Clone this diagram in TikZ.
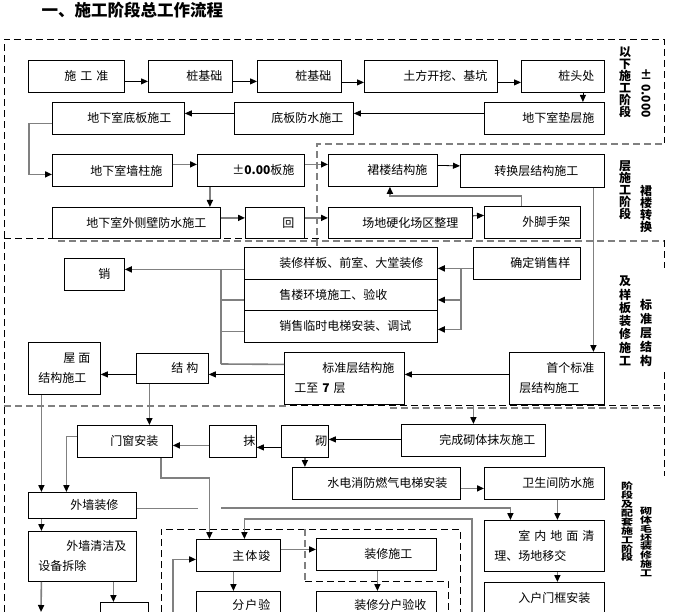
\documentclass[tikz,border=0pt]{standalone}
\usepackage{fontspec}
\usepackage{tikz}
\usetikzlibrary{arrows.meta,positioning,calc}
\newfontfamily\cjk{Noto Sans CJK SC}
\definecolor{lnGrey}{RGB}{128,128,128}

\begin{document}
\begin{tikzpicture}[
  x=1pt,y=-1pt,
  every node/.style={font=\cjk\fontsize{12}{20}\selectfont},
  box/.style={draw,line width=0.8pt,anchor=north west,inner xsep=10pt,
              inner ysep=0pt,align=right},
  wh/.style 2 args={minimum width=#1pt,minimum height=#2pt,
              /utils/exec={\pgfmathsetlengthmacro\boxtw{#1pt-20pt}},
              text width=\boxtw},
  ln/.style={line width=0.8pt,-{Triangle[length=7pt,width=6pt]}},
  gl/.style={draw=lnGrey,line width=1.6pt},
  gla/.style={gl,-{Triangle[length=7pt,width=6pt,color=black]}},
  band/.style={dash pattern=on 7pt off 4pt,line width=0.8pt},
  gband/.style={band,draw=lnGrey,line width=1.6pt},
  vlab/.style={inner sep=0pt,align=center,
              font=\cjk\bfseries\fontsize{12}{#1}\selectfont},
  vlab/.default=12
]
\clip (0,0) rectangle (679,612);

\node[anchor=west,font=\cjk\bfseries\fontsize{16.5}{16.5}\selectfont] (ttl) at (38,10) {一、施工阶段总工作流程};

\draw[band] (4,612) -- (4,39) -- (664,39) -- (664,143);
\draw[band] (664,240) -- (664,268);
\draw[band] (664,372) -- (664,476);
\draw[gband] (317,246) -- (317,144) -- (664,144);
\draw[band] (4,238) -- (320,238);
\draw[gband] (58,241) -- (664,241);
\draw[band] (4,405) -- (664,405);
\draw[gband] (4,406) -- (286,406);
\draw[gband] (390,408) -- (664,408);
\draw[band] (161,612) -- (161,529) -- (460,529) -- (460,612);
\draw[gband] (305,529) -- (305,581);
\draw[band] (305,581) -- (448,581) -- (448,612);

\node[box,wh={96}{32}] (sgz) at (28,60) {施\hspace{4pt}工\hspace{4pt}准\kern6pt};
\node[box,wh={84}{32}] (zjc1) at (148,60) {桩基础};
\node[box,wh={84}{32}] (zjc2) at (257,60) {桩基础};
\node[box,wh={133}{32}] (tfkw) at (364,60) {土方开挖、基坑};
\node[box,wh={83}{32}] (ztc) at (521,60) {桩头处};
\node[box,wh={120}{32}] (dcs) at (484,102) {地下室垫层施};
\node[box,wh={119}{32}] (dbfs) at (234,102) {底板防水施工};
\node[box,wh={132}{32}] (dbsg) at (52,102) {地下室底板施工\kern3pt};
\node[box,wh={120}{32}] (dqz) at (52,154) {地下室墙柱施};
\node[box,wh={107}{32}] (pm) at (197,154) {±\textbf{0.00}板施};
\node[box,wh={168}{31}] (wcb) at (52,207) {地下室外侧壁防水施工\kern4pt};
\node[box,wh={59}{31}] (hui) at (245,207) {回};
\node[box,wh={109}{32}] (qljg) at (328,154) {裙楼结构施};
\node[box,wh={144}{33}] (zhc) at (460,154) {转换层结构施工\kern16pt};
\node[box,wh={144}{31}] (cdyh) at (328,207) {场地硬化场区整理\kern4pt};
\node[box,wh={96}{32}] (wjsj) at (484,206) {外脚手架};

\node[box,wh={60}{32}] (xiao) at (64,258) {销\kern4pt};
\node[box,wh={193}{32}] (zxyb) at (244,247) {装修样板、前室、大堂装修\kern4pt};
\node[box,wh={193}{31},align=left] (slhj) at (244,279) {\hspace*{25pt}售楼环境施工、验收};
\node[box,wh={193}{32},align=left] (xsls) at (244,310) {\hspace*{25pt}销售临时电梯安装、调试};
\node[box,wh={107}{32}] (qdxs) at (473,247) {确定销售样};
\node[box,wh={72}{52},align=left] (wm) at (28,342) {\hfill 屋\hspace{3pt}面\\结构施工};
\node[box,wh={72}{30}] (jg) at (136,353) {结\hspace{3pt}构};
\node[box,wh={120}{52},align=left] (bzc) at (284,352) {\hfill 标准层结构施\\工至 \textbf{7} 层};
\node[box,wh={95}{52},align=left] (sgbz) at (509,352) {\hfill 首个标准\\层结构施工};

\node[box,wh={95}{32}] (mc) at (77,425) {门窗安装\kern4pt};
\node[box,wh={47}{32},inner xsep=1pt,text width=45pt] (mo) at (209,425) {抹};
\node[box,wh={47}{32},inner xsep=1pt,text width=45pt] (qi) at (281,425) {砌};
\node[box,wh={144}{32}] (wcqt) at (401,424) {完成砌体抹灰施工};
\node[box,wh={168}{32}] (sd) at (292,467) {水电消防燃气电梯安装\kern3pt};
\node[box,wh={120}{32}] (wsj) at (484,467) {卫生间防水施};
\node[box,wh={108}{26}] (wqzx) at (28,492) {外墙装修\kern8pt};
\node[box,wh={108}{50},align=left] (wqqj) at (28,531) {\hfill 外墙清洁及\\设备拆除};
\node[box,wh={48}{20}] (xx) at (100,602) {};
\node[box,wh={84}{32}] (ztj) at (196,539) {主\hspace{1pt}体\hspace{1pt}竣};
\node[box,wh={84}{28}] (fhy) at (196,591) {分\hspace{1pt}户\hspace{1pt}验};
\node[box,wh={120}{32}] (zxsg) at (316,538) {装修施工\kern14pt};
\node[box,wh={120}{28}] (zxfh) at (316,591) {装修分户验收};
\node[box,wh={120}{51},align=left] (snd) at (484,520) {\hfill 室\hspace{4pt}内\hspace{4pt}地\hspace{4pt}面\hspace{4pt}清\\理、场地移交};
\node[box,wh={120}{32}] (rhmk) at (484,582) {入户门框安装\kern4pt};

\node[vlab] (lb1a) at (625,82) {以\\下\\施\\工\\阶\\段};
\node[vlab] (lb1b) at (646,75) {±};
\node[vlab,rotate=-90] (lb1c) at (646,101) {0.000};
\node[vlab] (lb2a) at (625,190) {层\\施\\工\\阶\\段};
\node[vlab] (lb2b) at (646,209) {裙\\楼\\转\\换};
\node[vlab=13.3] (lb3a) at (625,321) {及\\样\\板\\装\\修\\施\\工};
\node[vlab=14] (lb3b) at (646,333) {标\\准\\层\\结\\构};
\node[vlab,yscale=0.74,transform shape] (lb4a) at (627,522) {阶\\段\\及\\配\\套\\施\\工\\阶\\段};
\node[vlab,yscale=0.74,transform shape] (lb4b) at (646,542) {砌\\体\\毛\\坯\\装\\修\\施\\工};

\draw[ln] ([yshift=-5pt]sgz.east) -- ([yshift=-5pt]zjc1.west);
\draw[ln] ([yshift=-5pt]zjc1.east) -- ([yshift=-5pt]zjc2.west);
\draw[ln] ([yshift=-6pt]zjc2.east) -- ([yshift=-6pt]tfkw.west);
\draw[ln] ([yshift=-6pt]tfkw.east) -- ([yshift=-6pt]ztc.west);
\draw[ln] ([xshift=20pt]ztc.south) -- ([xshift=20pt]ztc.south |- dcs.north);
\draw[ln] ([yshift=5pt]dcs.west) -- ([yshift=5pt]dbfs.east);
\draw[ln] ([yshift=5pt]dbfs.west) -- ([yshift=5pt]dbsg.east);
\draw[gla] ([yshift=-5pt]dbsg.west) -- ++(-23,0) |- ([yshift=-4pt]dqz.west);
\draw[gla] ([yshift=6pt]dqz.east) -- ([yshift=6pt]pm.west);
\draw[gla] ([yshift=6pt]pm.east) -- ([yshift=6pt]qljg.west);
\draw[gla] ([xshift=-41pt]pm.south) -- ([xshift=-41pt]pm.south |- wcb.north);
\draw[gla] ([yshift=5pt]wcb.east) -- ([yshift=5pt]hui.west);
\draw[gla] ([yshift=5pt]hui.east) -- ([yshift=5pt]cdyh.west);
\draw[ln] ([yshift=7pt]cdyh.east) -- ([yshift=7pt]wjsj.west);
\draw[gla] ([xshift=-11pt]wjsj.north) -- ++(0,-10) -| ([xshift=7pt]qljg.south);
\draw[ln] ([yshift=5pt]qljg.east) -- ([yshift=5pt]zhc.west);

\draw[gla] ([xshift=61pt]zhc.south) -- ([xshift=61pt]zhc.south |- sgbz.north);
\draw[ln] ([yshift=4pt]sgbz.west) -- ([yshift=4pt]bzc.east);
\draw[ln] ([yshift=4pt]bzc.west) -- ([yshift=-6pt]jg.east);
\draw[ln] ([yshift=-6pt]jg.west) -- ([yshift=-6pt]wm.east);
\coordinate (xbus) at (221,364);
\draw[gl] ([yshift=14pt]bzc.west) -- (xbus);
\draw[gla] (xbus) |- ([yshift=5pt]xiao.east);
\draw[gl] (xbus) |- ([yshift=-6pt]zxyb.west);
\draw[gl] (xbus) |- ([yshift=-5pt]slhj.west);
\draw[gl] (xbus) |- ([yshift=-5pt]xsls.west);
\coordinate (sbus) at (461,268);
\draw[gla] ([yshift=-5pt]qdxs.west) -- ([yshift=-5pt]zxyb.east);
\draw[gla] (sbus) |- ([yshift=-5pt]slhj.east);
\draw[gla] (sbus) |- ([yshift=-3pt]xsls.east);

\coordinate (kpt) at (wcqt.north |- bzc.south);
\draw[gla] (kpt) -- (wcqt.north);
\draw[gla] ([xshift=-23pt]wm.south) -- ([xshift=-23pt]wm.south |- wqzx.north);
\draw[gla] ([xshift=-23pt]jg.south) -- ([xshift=-23pt]jg.south |- mc.north);
\draw[gla] ([yshift=5pt]mc.west) -| ([xshift=-16pt]wqzx.north);
\draw[gla] ([yshift=-4pt]mo.west) -- ([yshift=-4pt]mc.east);
\draw[ln] ([yshift=-6pt]qi.west) -- ([yshift=-6pt]mo.east);
\draw[ln] ([yshift=1pt]wcqt.west) -- ([yshift=2pt]qi.east);
\draw[gla] (qi.south) -- (qi.south |- sd.north);
\draw[gla] ([yshift=-5pt]sd.east) -- ([yshift=-5pt]wsj.west);
\draw[gla] ([xshift=13pt]wsj.south) -- ([xshift=13pt]snd.north);
\draw[gla] ([xshift=13pt]snd.south) -- ([xshift=13pt]rhmk.north);
\draw[gla] ([xshift=-41pt]wqzx.south) -- ([xshift=-41pt]wqzx.south |- wqqj.north);
\coordinate (dn1) at (41,612);
\draw[gla] ([xshift=-41pt]wqqj.south) -- (dn1);
\draw[gla] ([xshift=31pt]wqqj.south) -- ([xshift=31pt]wqqj.south |- xx.north);
\draw[gla] ([xshift=36pt]mc.south) -- ++(0,20) -| ([xshift=-29pt]ztj.north);
\coordinate (jmp) at (221,508);
\draw[gl] ([yshift=-3pt]wqzx.east) -- ++(61,0);
\draw[gla] (jmp) -| ([xshift=-34pt]snd.north);
\coordinate (rt) at (472,612);
\coordinate (rt2) at (472,519);
\draw[gla] (rt) -- (rt2) -| ([xshift=6pt]ztj.north);
\coordinate (lft) at (173,612);
\draw[gla] (lft) |- ([yshift=-4pt]ztj.west);
\draw[gla] ([yshift=6pt]ztj.east) -- ([yshift=5pt]zxsg.west);
\draw[gla] ([xshift=-5pt]ztj.south) -- ([xshift=-5pt]fhy.north);
\draw[gla] ([xshift=1pt]zxsg.south) -- ([xshift=1pt]zxfh.north);
\end{tikzpicture}
\end{document}
